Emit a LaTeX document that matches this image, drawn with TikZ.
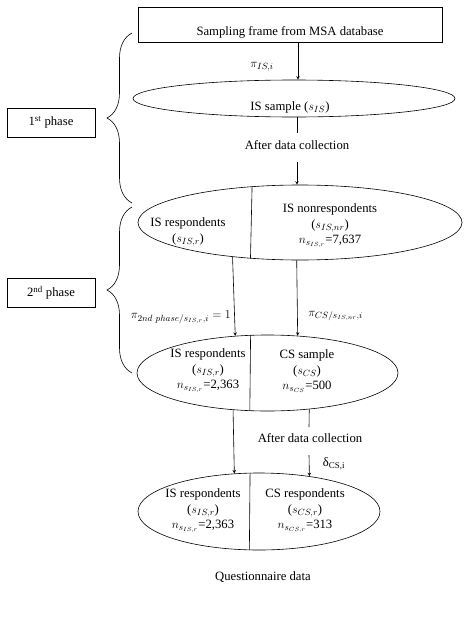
\documentclass[tikz,border=0pt]{standalone}
\usepackage{amsmath, amssymb}
\usepackage{fontspec}
\setmainfont{Liberation Serif}
\usepackage{tikz}
\usetikzlibrary{positioning}
\usetikzlibrary{arrows.meta}
\usetikzlibrary{shapes.geometric}
\usetikzlibrary{decorations.pathreplacing}
\usepackage{xcolor}

\begin{document}
\begin{tikzpicture}[>=stealth, x=1pt, y=-1pt, semithick,
    every node/.style={font=\fontsize{12.7}{15.5}\selectfont, inner sep=0pt, align=center},
    oval/.style={draw, ellipse, inner sep=0pt},
    phasebox/.style={draw, minimum width=88pt, minimum height=29pt},
    curly/.style={decorate, decoration={brace, amplitude=25pt}}]
    \useasboundingbox (0,0) rectangle (474,621);

    % 1st phase
    \node[draw, minimum width=304pt, minimum height=35pt, text height=25pt, text depth=3pt] (frame) at (290,24.5) {Sampling frame from MSA database};
    \node[oval, minimum width=322pt, minimum height=37pt] (is) at (294,98.5) {};
    \node (istext) at (290,107) {IS sample ($s_{IS}$)};
    \node (piis) at (262,67) {$\pi_{IS,i}$};
    \draw[->] ([xshift=8pt]frame.south) -- ([xshift=4pt]is.north);
    \coordinate (c1) at (297,133);
    \coordinate (c2) at (297,162);
    \node (after1) at (297,145) {After data collection};

    % 2nd phase
    \node[oval, minimum width=324pt, minimum height=75pt] (split) at (300,222.5) {};
    \draw ([xshift=3pt]is.south) -- (c1);
    \draw[->] (c2) -- ([xshift=-3pt]split.north);
    \draw (split.143.3) -- (split.216.7);
    \node (resp1) at (188,232) {IS respondents\\($s_{IS,r}$)};
    \node (nonresp) at (330,226) {IS nonrespondents\\($s_{IS,nr}$)\\$n_{s_{IS,r}}$=7,637};

    \node[oval, minimum width=261pt, minimum height=76pt] (cs) at (267.5,373) {};
    \draw (cs.114.9) -- (cs.245.1);
    \node (resp2) at (208,371) {IS respondents\\($s_{IS,r}$)\\$n_{s_{IS,r}}$=2,363};
    \node (cssample) at (307,371) {CS sample\\($s_{CS}$)\\$n_{s_{CS}}$=500};
    \draw[->] (split.207.9) -- (cs.131.5);
    \draw[->] (split.265.4) -- (cs.51.4);
    \node[anchor=east] (pi2nd) at (231,317) {$\pi_{2nd\ phase/s_{IS,r},i} = 1$};
    \node[anchor=west] (pics) at (308,316) {$\pi_{CS/s_{IS,nr},i}$};

    % final respondents
    \node[oval, minimum width=242pt, minimum height=77pt] (final) at (259,511.5) {};
    \draw (final.103.2) -- (final.256.8);
    \node (resp3) at (203,511) {IS respondents\\($s_{IS,r}$)\\$n_{s_{IS,r}}$=2,363};
    \node (csresp) at (305,511) {CS respondents\\($s_{CS,r}$)\\$n_{s_{CS,r}}$=313};
    \coordinate (c3) at (309,427);
    \coordinate (c4) at (309,455);
    \node (after2) at (310,438) {After data collection};
    \draw (cs.319.1) -- (c3);
    \draw[->] (c4) -- (final.35);
    \draw[->] (cs.227.6) -- (final.123.6);
    \node (delta) at (334,464) {δ\textsubscript{CS,i}};
    \node (qdata) at (263,577) {Questionnaire data};

    % phases
    \node[phasebox] (phase1) at (51,122.5) {1\textsuperscript{st} phase};
    \node[phasebox] (phase2) at (51,293) {2\textsuperscript{nd} phase};
    \coordinate (b1s) at (132,203);
    \coordinate (b1e) at (132,33);
    \coordinate (b2s) at (132,373);
    \coordinate (b2e) at (132,207);
    \draw[curly] (b1s) -- (b1e);
    \draw[curly] (b2s) -- (b2e);
\end{tikzpicture}
\end{document}
